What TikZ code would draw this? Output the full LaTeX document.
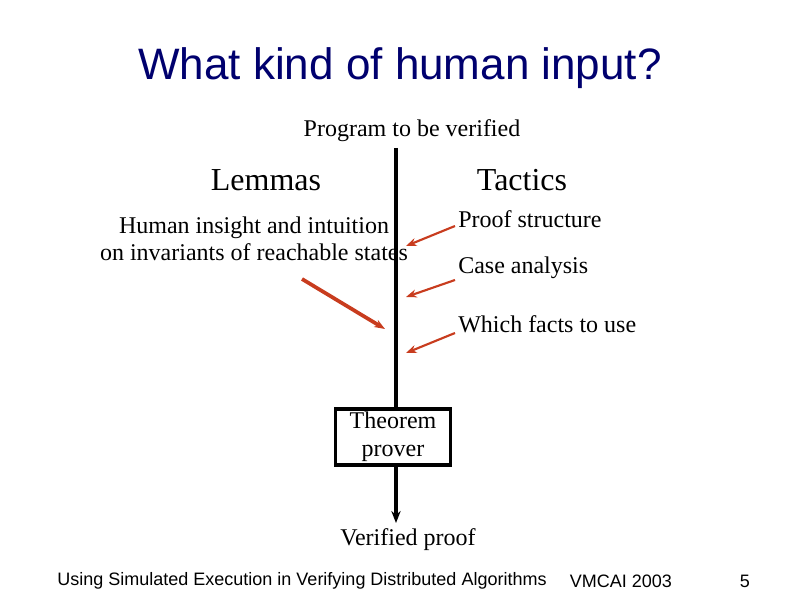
\documentclass[tikz,border=0pt]{standalone}
\usepackage{fontspec}
\setmainfont{Liberation Serif}
\newfontfamily\arialf{Liberation Sans}
\definecolor{navy}{RGB}{0,0,110}
\definecolor{arrred}{RGB}{200,60,30}
\usetikzlibrary{arrows.meta}
\begin{document}
\begin{tikzpicture}[x=0.75pt,y=-0.75pt,
  txt/.style={inner sep=0pt,font=\fontsize{18}{20}\selectfont},
  hd/.style={inner sep=0pt,font=\fontsize{24}{26}\selectfont},
  foot/.style={inner sep=0pt,font=\arialf\fontsize{13.5}{15}\selectfont},
  redarr/.style={draw=arrred,line width=1.6pt,-{Stealth[length=8pt,width=6pt]}},
  mainline/.style={line width=2.4pt}]
\useasboundingbox (0,0) rectangle (794,595);
\node[inner sep=0pt,font=\arialf\fontsize{33}{36}\selectfont,text=navy] (title) at (400,68) {What kind of human input?};
\node[txt] (prog) at (412,131) {Program to be verified};
\coordinate (top) at (396,148);
\node[hd] (lem) at (266,180) {Lemmas};
\node[hd] (tac) at (522,180) {Tactics};
\node[txt,align=center] (human) at (254,239) {Human insight and intuition\\on invariants of reachable states};
\node[txt,anchor=west] (ps) at (458,219) {Proof structure};
\node[txt,anchor=west] (ca) at (458,268) {Case analysis};
\node[txt,anchor=west] (wf) at (458,324) {Which facts to use};
\node[draw,line width=2.4pt,minimum width=86pt,minimum height=42pt,align=center,inner sep=0pt,font=\fontsize{18}{21}\selectfont] (tp) at (393,437) {Theorem\\prover};
\draw[mainline] (top) -- (top |- tp.north);
\node[txt] (vp) at (408,540) {Verified proof};
\draw[mainline,-{Stealth[length=9pt,width=7pt]}] (tp.south -| top) -- (396,523);
\coordinate (a1s) at (455,226); \coordinate (a1e) at (406,246);
\coordinate (a2s) at (455,280); \coordinate (a2e) at (406,297);
\coordinate (a3s) at (455,333); \coordinate (a3e) at (406,353);
\coordinate (bs) at (302,279); \coordinate (be) at (385,329);
\draw[redarr] (a1s) -- (a1e);
\draw[redarr] (a2s) -- (a2e);
\draw[redarr] (a3s) -- (a3e);
\draw[redarr,line width=2.8pt] (bs) -- (be);
\node[foot] (f1) at (302,581) {Using Simulated Execution in Verifying Distributed Algorithms};
\node[foot] (f2) at (621,581) {VMCAI 2003};
\node[foot] (f3) at (745,581) {5};
\end{tikzpicture}
\end{document}
